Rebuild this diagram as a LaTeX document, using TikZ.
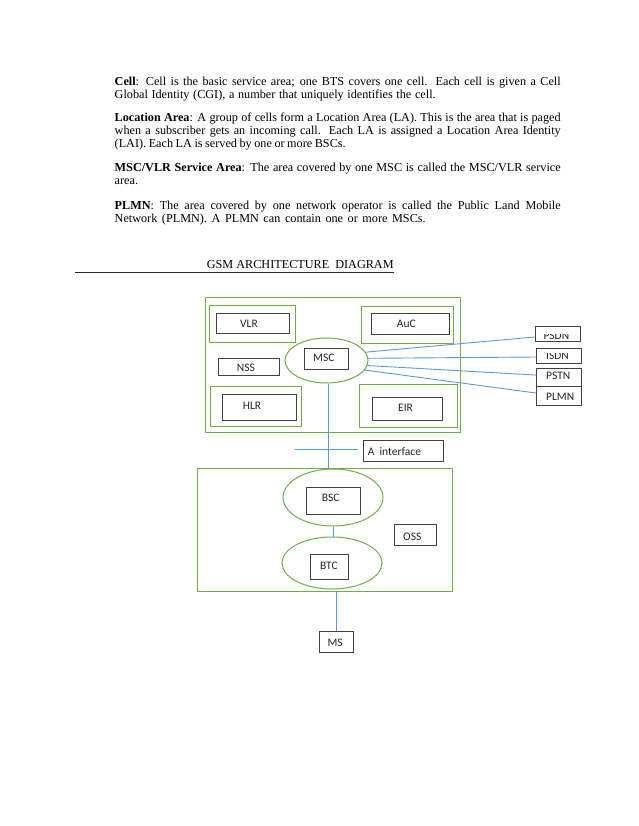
\documentclass[tikz,border=0pt]{standalone}
\usepackage{fontspec}
\setmainfont{Liberation Serif}
\newfontfamily\carl{Carlito}
\usetikzlibrary{fit,shapes.geometric}
\definecolor{grn}{RGB}{112,173,71}
\definecolor{blu}{RGB}{91,155,213}
\definecolor{boxc}{RGB}{64,64,64}
\newcommand\rbox[6]{\node[#1, fit={(#3,#4) (#5,#6)}] (#2) {};}
\begin{document}
\begin{tikzpicture}[x=1pt,y=-1pt,
  txt/.style={inner sep=0, anchor=base west, font=\fontsize{12.2}{12.6}\selectfont},
  lbl/.style={inner sep=0, anchor=base west, font=\carl\fontsize{11.5}{12}\selectfont, text=black!85},
  bx/.style={draw=boxc, line width=1pt, inner sep=0},
  gbx/.style={draw=grn, line width=1pt, inner sep=0},
  gell/.style={ellipse, draw=grn, line width=1pt, inner sep=0},
  bl/.style={draw=blu, line width=0.9pt}]
\useasboundingbox (0,0) rectangle (638,826);
\fill[white] (0,0) rectangle (638,826);
% text
\node[txt] (l1) at (114.5,86) {\makebox[446pt][s]{\textbf{Cell}: Cell is the basic service area; one BTS covers one cell. Each cell is given a Cell}};
\node[txt] (l2) at (114.5,98.6) {\makebox[321pt][s]{Global Identity (CGI), a number that uniquely identifies the cell.}};
\node[txt] (l3) at (114.5,122) {\makebox[446pt][s]{\textbf{Location Area}: A group of cells form a Location Area (LA). This is the area that is paged}};
\node[txt] (l4) at (114.5,134.6) {\makebox[446pt][s]{when a subscriber gets an incoming call. Each LA is assigned a Location Area Identity}};
\node[txt] (l5) at (114.5,147.2) {\makebox[231pt][s]{(LAI). Each LA is served by one or more BSCs.}};
\node[txt] (l6) at (114.5,172) {\makebox[446pt][s]{\textbf{MSC/VLR Service Area}: The area covered by one MSC is called the MSC/VLR service}};
\node[txt] (l7) at (114.5,184.6) {area.};
\node[txt] (l8) at (114.5,209.5) {\makebox[446pt][s]{\textbf{PLMN}: The area covered by one network operator is called the Public Land Mobile}};
\node[txt] (l9) at (114.5,222.1) {\makebox[311pt][s]{Network (PLMN). A PLMN can contain one or more MSCs.}};
% heading
\node[txt] (head) at (206.7,268.3) {GSM ARCHITECTURE\ \ DIAGRAM};
\coordinate (ul) at (75,272);
\draw[line width=1pt, black!85] (ul) -- (ul -| head.east);
% NSS part
\rbox{gbx}{nss}{205}{297}{460}{432}
\rbox{gbx}{vlrg}{209}{305}{295}{342}
\rbox{bx}{vlr}{216}{313}{289}{333}
\rbox{gbx}{aucg}{361}{306}{453}{343}
\rbox{bx}{auc}{371}{313}{449}{334}
\rbox{bx}{nssb}{218}{358}{279}{375}
\rbox{gbx}{hlrg}{210}{386}{301}{426}
\rbox{bx}{hlr}{222}{394}{296}{420}
\rbox{gbx}{eirg}{359}{384}{457}{427}
\rbox{bx}{eir}{372}{397}{442}{420}
\node[gell, minimum width=83pt, minimum height=45pt] (msc) at (326.5,360.5) {};
\rbox{bx}{mscb}{304}{348}{348}{369}
% right boxes
\rbox{bx}{psdn}{535}{326}{580}{341}
\rbox{bx}{isdn}{536.7}{348.7}{581.7}{363.7}
\rbox{bx}{pstn}{536.7}{368}{581.7}{386.2}
\rbox{bx}{plmn}{536.7}{386.8}{581.7}{405.3}
% A interface
\rbox{bx}{aif}{363.3}{440}{443.3}{461}
% BSS part
\rbox{gbx}{bss}{197}{468}{452}{591}
\node[gell, minimum width=100pt, minimum height=57pt] (bsc) at (333,497.5) {};
\rbox{bx}{bscb}{306}{487}{360}{514}
\node[gell, minimum width=100pt, minimum height=52pt] (btc) at (332,563) {};
\rbox{bx}{btcb}{310}{554}{348}{579}
\rbox{bx}{oss}{394}{524}{436}{545}
\rbox{bx}{ms}{319.3}{631.7}{353.3}{652.7}
% labels
\node[lbl] (tvlr) at (240,327.3) {VLR};
\node[lbl] (tauc) at (396.7,327.3) {AuC};
\node[lbl] (tnss) at (236.7,371.7) {NSS};
\node[lbl] (tmsc) at (313,361) {MSC};
\node[lbl] (thlr) at (242.7,409) {HLR};
\node[lbl] (teir) at (398,411.7) {EIR};
\node[lbl] (taif) at (367.7,455) {A\hspace{5pt}interface};
\node[lbl] (tbsc) at (321.7,501.7) {BSC};
\node[lbl] (toss) at (403,540) {OSS};
\node[lbl] (tbtc) at (320,569.3) {BTC};
\node[lbl] (tms) at (327.3,646.7) {MS};
\begin{scope}
\clip (535,334.6) rectangle (580,341);
\node[lbl] (tpsdn) at (543.3,339.6) {PSDN};
\end{scope}
\begin{scope}
\clip (536.7,353.2) rectangle (581.7,363.7);
\node[lbl] (tisdn) at (546,359.6) {ISDN};
\end{scope}
\node[lbl] (tpstn) at (546,379.3) {PSTN};
\node[lbl] (tplmn) at (546,400.3) {PLMN};
% connectors
\draw[bl] (msc.12) -- ([yshift=-3.5pt]psdn.west);
\draw[bl] (msc.3) -- ([yshift=-0.8pt]isdn.west);
\draw[bl] (msc.-7) -- ([yshift=2pt]pstn.west);
\draw[bl] (msc.-14) -- ([yshift=3pt]plmn.west);
\draw[bl] ([xshift=1.5pt]msc.south) -- ([xshift=1.5pt]msc.south |- bsc.north);
\coordinate (ai1) at (295,449);
\coordinate (ai2) at (358,449);
\draw[bl] (ai1) -- (ai2);
\draw[bl] (bsc.south) -- (bsc.south |- btc.north);
\draw[bl] (ms.north |- bss.south) -- (ms.north);
\end{tikzpicture}
\end{document}
